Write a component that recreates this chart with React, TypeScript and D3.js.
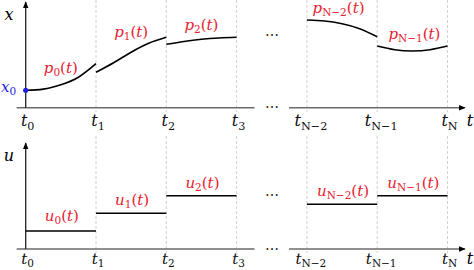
import React from "react";
import * as d3 from "d3";

// knot indices and their labels (subscripts)
const knotIndex = [0, 1, 2, 3, 4, 5, 6];
const knotSub = ["0", "1", "2", "3", "N−2", "N−1", "N"];

// state trajectory segments p_k(t): [t (knot units), value]
const p0 = [[0, 1.74], [0.25, 1.86], [0.5, 2.3], [0.75, 3.05], [1, 4.4]];
const p1 = [[1, 3.54], [1.25, 4.5], [1.5, 5.55], [1.75, 6.45], [2, 7.04]];
const p2 = [[2, 6.34], [2.25, 6.62], [2.5, 6.84], [2.75, 6.97], [3, 7.04]];
const pN2 = [[4, 8.77], [4.25, 8.67], [4.5, 8.4], [4.75, 7.9], [5, 7.1]];
const pN1 = [[5, 6.17], [5.25, 5.8], [5.5, 5.67], [5.75, 5.8], [6, 6.17]];
const pSegs = [p0, p1, p2, pN2, pN1];
const pSubs = ["0", "1", "2", "N−2", "N−1"];
const pLabelX = [0.5, 1.5, 2.5, 4.45, 5.53];
const pLabelY = [3.52, 7.07, 7.77, 9.47, 6.92];

// control segments u_k(t): [start, end, value]
const uStart = [0, 1, 2, 4, 5];
const uValue = [1.8, 3.57, 5.33, 4.47, 5.33];
const uSubs = ["0", "1", "2", "N−2", "N−1"];
const uLabelY = [2.85, 4.4, 6.15, 5.3, 6.15];

const x0Value = 1.74;

const W = 474, H = 270;
const RED = "#e8212f";
const BLUE = "#1f1fe6";
const AXIS = "#6b6b6b";
const FONT = "DejaVu Serif";

function Sub({ base, sub, x, y, fill, anchor = "middle", size = 16, tail = false }: any) {
  return (
    <text x={x} y={y} fill={fill} textAnchor={anchor} fontFamily={FONT} fontSize={size}>
      <tspan fontStyle="italic">{base}</tspan>
      <tspan fontSize={size * 0.7} dy={size * 0.22}>{sub}</tspan>
      {tail ? (
        <tspan dy={-size * 0.22}>
          (<tspan fontStyle="italic">t</tspan>)
        </tspan>
      ) : null}
    </text>
  );
}

export default function App() {
  const xs = d3.scaleLinear().domain([0, 6]).range([25.7, 447.5]);
  const yTop = d3.scaleLinear().domain([0, 10]).range([107.7, 7.7]);
  const yBot = d3.scaleLinear().domain([0, 10]).range([249, 149]);
  const line = d3
    .line<number[]>()
    .x((d) => xs(d[0]))
    .y((d) => yTop(d[1]))
    .curve(d3.curveNatural);

  const panels = [
    { y0: yTop(0), top: 2, dashTop: 0, dashBot: 112, label: "x", labelY: 20, tY: 126, dotsY: 39.6 },
    { y0: yBot(0), top: 143, dashTop: 136, dashBot: 253, label: "u", labelY: 161, tY: 264, dotsY: 200.3 },
  ];
  const gapL = 254.5, gapR = 289, dotsX = 272;

  return (
    <svg width={W} height={H} style={{ position: "absolute", left: 0, top: 0 }}>
      <defs>
        <marker id="arr" viewBox="0 0 10 10" refX="9" refY="5" markerWidth="7" markerHeight="7" orient="auto" markerUnits="userSpaceOnUse">
          <path d="M0,1 L10,5 L0,9 z" fill="#000" />
        </marker>
      </defs>
      {panels.map((pn, pi) => (
        <g key={pi}>
          {knotIndex.slice(1).map((k) => (
            <line key={k} x1={xs(k)} x2={xs(k)} y1={pn.dashTop} y2={pn.dashBot} stroke="#c4c4c4" strokeWidth={0.8} strokeDasharray="3,2" />
          ))}
          <line x1={16.7} x2={gapL} y1={pn.y0} y2={pn.y0} stroke={AXIS} strokeWidth={1.5} />
          <line x1={gapR} x2={465} y1={pn.y0} y2={pn.y0} stroke={AXIS} strokeWidth={1.5} markerEnd="url(#arr)" />
          <line x1={xs(0)} x2={xs(0)} y1={pn.y0} y2={pn.top} stroke="#222" strokeWidth={1.3} markerEnd="url(#arr)" />
          <text x={dotsX} y={pn.y0 + 4.6} textAnchor="middle" fill="#222" fontFamily={FONT} fontSize={14}>⋯</text>
          <text x={dotsX} y={pn.dotsY} textAnchor="middle" fill="#222" fontFamily={FONT} fontSize={14}>⋯</text>
          <text x={9} y={pn.labelY} textAnchor="middle" fontFamily={FONT} fontStyle="italic" fontSize={16}>{pn.label}</text>
          <text x={470} y={pn.tY} textAnchor="middle" fontFamily={FONT} fontStyle="italic" fontSize={16}>t</text>
          {knotIndex.map((k, i) => (
            <Sub key={k} base="t" sub={knotSub[i]} x={xs(k) + (knotSub[i].length > 1 ? 4 : 2)} y={pn.tY} fill="#111" size={pi === 1 ? 15 : 16} />
          ))}
        </g>
      ))}

      {pSegs.map((seg, i) => (
        <path key={i} d={line(seg) || ""} fill="none" stroke="#000" strokeWidth={1.6} />
      ))}
      {pSubs.map((s, i) => (
        <Sub key={i} base="p" sub={s} tail x={xs(pLabelX[i])} y={yTop(pLabelY[i])} fill={RED} size={15} />
      ))}
      <circle cx={xs(0)} cy={yTop(x0Value)} r={2.6} fill={BLUE} />
      <Sub base="x" sub="0" x={1} y={91.5} fill={BLUE} anchor="start" size={15} />

      {uStart.map((s, i) => (
        <line key={i} x1={xs(s)} x2={xs(s + 1)} y1={yBot(uValue[i])} y2={yBot(uValue[i])} stroke="#000" strokeWidth={1.6} />
      ))}
      {uSubs.map((s, i) => (
        <Sub key={i} base="u" sub={s} tail x={xs(uStart[i] + 0.5) + 1} y={yBot(uLabelY[i])} fill={RED} size={15} />
      ))}
    </svg>
  );
}
